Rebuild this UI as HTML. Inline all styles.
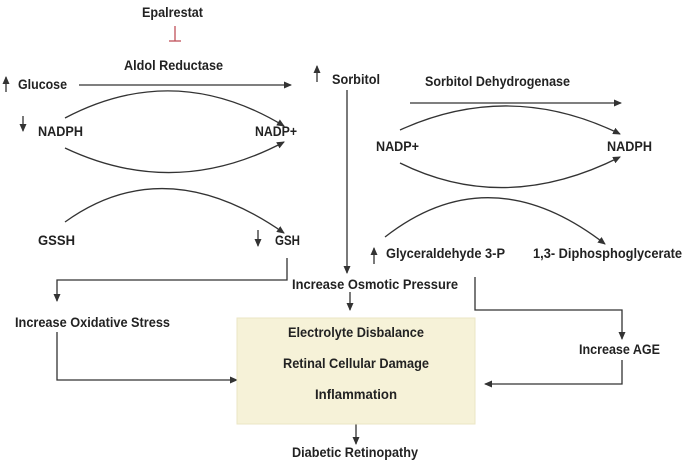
<!DOCTYPE html>
<html><head><meta charset="utf-8"><style>
html,body{margin:0;padding:0;background:#fff;}
svg{display:block}
text{font-family:"Liberation Sans",sans-serif;font-weight:bold;font-size:13.5px;fill:#222;}
</style></head><body>
<svg width="685" height="463" viewBox="0 0 685 463" xmlns="http://www.w3.org/2000/svg">
<defs>
<marker id="a" markerWidth="8" markerHeight="8" refX="7" refY="4" orient="auto" markerUnits="userSpaceOnUse">
<path d="M0,0.5 L8,4 L0,7.5 z" fill="#333"/></marker>
</defs>
<g stroke="#333" stroke-width="1.3" fill="none">
<line x1="175" y1="26" x2="175" y2="41" stroke="#c0505a"/>
<line x1="169" y1="41" x2="181" y2="41" stroke="#c0505a"/>
<line x1="6" y1="92" x2="6" y2="77" marker-end="url(#a)"/>
<line x1="23" y1="116" x2="23" y2="131" marker-end="url(#a)"/>
<line x1="258" y1="230" x2="258" y2="246" marker-end="url(#a)"/>
<line x1="317" y1="82" x2="317" y2="66" marker-end="url(#a)"/>
<line x1="374" y1="264" x2="374" y2="248" marker-end="url(#a)"/>
<line x1="79" y1="85" x2="291" y2="85" marker-end="url(#a)"/>
<path d="M65,118 Q175,60 284,126" marker-end="url(#a)"/>
<path d="M65,148 Q175,200 284,142" marker-end="url(#a)"/>
<path d="M65,222 Q165,150 284,233" marker-end="url(#a)"/>
<line x1="347" y1="90" x2="347" y2="273" marker-end="url(#a)"/>
<line x1="410" y1="103" x2="621" y2="103" marker-end="url(#a)"/>
<path d="M400,130 Q510,80 620,134" marker-end="url(#a)"/>
<path d="M400,163 Q505,215 620,157" marker-end="url(#a)"/>
<path d="M385,237 Q490,155 605,244" marker-end="url(#a)"/>
<line x1="350" y1="292" x2="350" y2="310" marker-end="url(#a)"/>
<polyline points="287,258 287,280 57,280 57,301" marker-end="url(#a)"/>
<polyline points="57,332 57,380 237,380" marker-end="url(#a)"/>
<polyline points="475,277 475,310 622,310 622,339" marker-end="url(#a)"/>
<polyline points="622,360 622,384 485,384" marker-end="url(#a)"/>
<line x1="356" y1="424" x2="356" y2="444" marker-end="url(#a)"/>
</g>
<rect x="237" y="318" width="238" height="106" fill="#f6f2d8" stroke="#ebe6c4" stroke-width="1"/>
<text x="142" y="17" textLength="61" lengthAdjust="spacingAndGlyphs">Epalrestat</text>
<text x="124" y="70" textLength="99" lengthAdjust="spacingAndGlyphs">Aldol Reductase</text>
<text x="18" y="89" textLength="49" lengthAdjust="spacingAndGlyphs">Glucose</text>
<text x="38" y="136" textLength="45" lengthAdjust="spacingAndGlyphs">NADPH</text>
<text x="255" y="136" textLength="42" lengthAdjust="spacingAndGlyphs">NADP+</text>
<text x="38" y="245" textLength="37" lengthAdjust="spacingAndGlyphs">GSSH</text>
<text x="275" y="245" textLength="25" lengthAdjust="spacingAndGlyphs">GSH</text>
<text x="332" y="84" textLength="48" lengthAdjust="spacingAndGlyphs">Sorbitol</text>
<text x="425" y="86" textLength="145" lengthAdjust="spacingAndGlyphs">Sorbitol Dehydrogenase</text>
<text x="376" y="151" textLength="43" lengthAdjust="spacingAndGlyphs">NADP+</text>
<text x="607" y="151" textLength="45" lengthAdjust="spacingAndGlyphs">NADPH</text>
<text x="386" y="258" textLength="119" lengthAdjust="spacingAndGlyphs">Glyceraldehyde 3-P</text>
<text x="533" y="258" textLength="149" lengthAdjust="spacingAndGlyphs">1,3- Diphosphoglycerate</text>
<text x="292" y="289" textLength="166" lengthAdjust="spacingAndGlyphs">Increase Osmotic Pressure</text>
<text x="15" y="327" textLength="155" lengthAdjust="spacingAndGlyphs">Increase Oxidative Stress</text>
<text x="579" y="354" textLength="81" lengthAdjust="spacingAndGlyphs">Increase AGE</text>
<text x="288" y="337" textLength="136" lengthAdjust="spacingAndGlyphs">Electrolyte Disbalance</text>
<text x="283" y="368" textLength="146" lengthAdjust="spacingAndGlyphs">Retinal Cellular Damage</text>
<text x="315" y="399" textLength="82" lengthAdjust="spacingAndGlyphs">Inflammation</text>
<text x="292" y="457" textLength="126" lengthAdjust="spacingAndGlyphs">Diabetic Retinopathy</text>
</svg>
</body></html>
